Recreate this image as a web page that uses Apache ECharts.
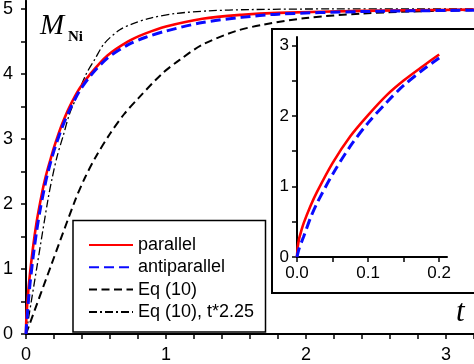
<!DOCTYPE html>
<html>
<head>
<meta charset="utf-8">
<script src="https://cdn.jsdelivr.net/npm/echarts@6/dist/echarts.min.js"></script>
<style>html,body{margin:0;padding:0;background:#fff}#c{width:474px;height:364px}</style>
</head>
<body>
<div id="c"></div>
<script>
// ---- data ----
const parallelT = [0, 0.001, 0.003, 0.006, 0.0094, 0.0188, 0.028, 0.05, 0.075, 0.1, 0.127, 0.15, 0.178, 0.2, 0.223, 0.26, 0.31, 0.38, 0.46, 0.58, 0.73, 0.85, 1.0, 1.26, 1.54, 1.8, 2.4, 3.2];
const parallelM = [0, 0.14, 0.26, 0.37, 0.48, 0.72, 0.92, 1.33, 1.71, 2.01, 2.30, 2.50, 2.71, 2.87, 3.02, 3.24, 3.49, 3.77, 4.0, 4.28, 4.5, 4.62, 4.73, 4.85, 4.91, 4.94, 4.97, 4.99];
const antiT = [0, 0.003, 0.0094, 0.0188, 0.028, 0.05, 0.075, 0.1, 0.127, 0.15, 0.178, 0.2, 0.223, 0.26, 0.31, 0.38, 0.46, 0.58, 0.73, 0.85, 1.0, 1.26, 1.54, 1.8, 2.4, 3.2];
const antiM = [0, 0.12, 0.29, 0.55, 0.76, 1.17, 1.57, 1.90, 2.20, 2.43, 2.66, 2.82, 2.97, 3.19, 3.44, 3.73, 3.97, 4.24, 4.45, 4.56, 4.66, 4.79, 4.87, 4.92, 4.96, 4.98];
const eq10T = [0, 0.18, 0.35, 0.42, 0.5, 0.6, 0.7, 0.8, 0.97, 1.1, 1.26, 1.5, 1.7, 2.0, 2.4, 2.9, 3.2];
const eq10M = [0, 1.06, 2.05, 2.4, 2.73, 3.08, 3.38, 3.62, 4.0, 4.22, 4.45, 4.66, 4.76, 4.86, 4.93, 4.97, 4.98];
const eq10sT = [0, 0.08, 0.157, 0.187, 0.222, 0.267, 0.31, 0.356, 0.43, 0.49, 0.56, 0.67, 0.76, 0.89, 1.07, 1.3, 1.6, 2.2, 3.2];
const eq10sM = [0, 1.06, 2.07, 2.4, 2.73, 3.06, 3.38, 3.62, 4.0, 4.22, 4.47, 4.68, 4.77, 4.86, 4.93, 4.97, 4.99, 5.0, 5.0];

const seriesNames = ['parallel', 'antiparallel', 'Eq (10)', 'Eq (10), t*2.25'];

const mainXTicks = [0, 0.2, 0.4, 0.6, 0.8, 1, 1.2, 1.4, 1.6, 1.8, 2, 2.2, 2.4, 2.6, 2.8, 3, 3.2];
const mainXLabels = [0, 1, 2, 3];
const mainYTicks = [0, 0.5, 1, 1.5, 2, 2.5, 3, 3.5, 4, 4.5, 5];
const mainYLabels = [0, 1, 2, 3, 4, 5];
const insetXTicks = [0, 0.05, 0.1, 0.15, 0.2];
const insetXLabels = [0, 0.1, 0.2];
const insetYTicks = [0, 0.5, 1, 1.5, 2, 2.5, 3];
const insetYLabels = [0, 1, 2, 3];
const insetTMax = 0.2;

function pairs(ts, ms, tmax) {
  const out = [];
  for (let i = 0; i < ts.length; i++) {
    if (tmax === undefined || ts[i] <= tmax + 1e-9) out.push([ts[i], ms[i]]);
  }
  return out;
}

const FONT = '"Liberation Sans", Arial, sans-serif';
const SERIF = '"Liberation Serif", "Times New Roman", serif';

const styles = [
  { color: '#ff0000', width: 2.6, type: 'solid' },
  { color: '#0a0aff', width: 3, type: [10, 5] },
  { color: '#000000', width: 2, type: [8, 4.5] },
  { color: '#000000', width: 1.3, type: [8, 3, 2, 3] }
];

function mkSeries(name, data, st, xi, yi) {
  return {
    name: name, type: 'line', xAxisIndex: xi, yAxisIndex: yi,
    data: data, symbol: 'none', smooth: 0.3,
    lineStyle: { color: st.color, width: st.width, type: st.type },
    itemStyle: { color: st.color }, z: 3
  };
}

function valAxis(gridIndex, min, max, ticks, labels, fmt, tickLen, margin, fontSize) {
  return {
    type: 'value', gridIndex: gridIndex, min: min, max: max,
    splitLine: { show: false },
    axisLine: { show: true, onZero: false, lineStyle: { color: '#000', width: 2 } },
    axisTick: { show: true, inside: false, length: tickLen, customValues: ticks, lineStyle: { color: '#000', width: 1.5 } },
    axisLabel: { show: true, customValues: labels, formatter: fmt, color: '#000', fontFamily: FONT, fontSize: fontSize, margin: margin }
  };
}

const chart = echarts.init(document.getElementById('c'), null, { renderer: 'canvas' });
const option = {
  animation: false,
  backgroundColor: '#fff',
  grid: [
    { left: 21, top: 0, right: 0, bottom: 27 },
    { left: 297, top: 37, width: 150, height: 220 }
  ],
  xAxis: [
    valAxis(0, 0, 3.2, mainXTicks, mainXLabels, v => String(Math.round(v)), 5, 12, 18),
    valAxis(1, 0, 0.211, insetXTicks, insetXLabels, v => v.toFixed(1), 5, 8, 17)
  ],
  yAxis: [
    valAxis(0, 0, 5.126, mainYTicks, mainYLabels, v => String(Math.round(v)), 5, 13, 18),
    valAxis(1, 0, 3.117, insetYTicks, insetYLabels, v => String(Math.round(v)), 5, 8, 17)
  ],
  legend: {
    orient: 'vertical', left: 88, top: 236, padding: 0,
    itemWidth: 44, itemHeight: 14, itemGap: 4.3,
    data: seriesNames,
    itemStyle: { opacity: 0, borderWidth: 0 },
    textStyle: { color: '#000', fontFamily: FONT, fontSize: 18 },
    selectedMode: false
  },
  graphic: [
    { type: 'rect', shape: { x: 73, y: 220.5, width: 192.5, height: 111.5 }, style: { fill: 'none', stroke: '#000', lineWidth: 1.5 }, z: 1, silent: true },
    { type: 'rect', shape: { x: 272, y: 29, width: 204, height: 264 }, style: { fill: 'none', stroke: '#000', lineWidth: 2 }, z: 1, silent: true },
    { type: 'text', style: { x: 40, y: 26, text: 'M', font: 'italic 29px ' + SERIF, fill: '#000', textVerticalAlign: 'middle' }, z: 5, silent: true },
    { type: 'text', style: { x: 68, y: 37, text: 'Ni', font: 'bold 15px ' + SERIF, fill: '#000', textVerticalAlign: 'middle' }, z: 5, silent: true },
    { type: 'text', style: { x: 456, y: 313, text: 't', font: 'italic 31px ' + SERIF, fill: '#000', textVerticalAlign: 'middle' }, z: 5, silent: true }
  ],
  series: [
    mkSeries(seriesNames[3], pairs(eq10sT, eq10sM), styles[3], 0, 0),
    mkSeries(seriesNames[2], pairs(eq10T, eq10M), styles[2], 0, 0),
    mkSeries(seriesNames[0], pairs(parallelT, parallelM), styles[0], 0, 0),
    mkSeries(seriesNames[1], pairs(antiT, antiM), styles[1], 0, 0),
    mkSeries(seriesNames[0], pairs(parallelT, parallelM, insetTMax), styles[0], 1, 1),
    mkSeries(seriesNames[1], pairs(antiT, antiM, insetTMax), styles[1], 1, 1)
  ]
};
chart.setOption(option);
</script>
</body>
</html>
